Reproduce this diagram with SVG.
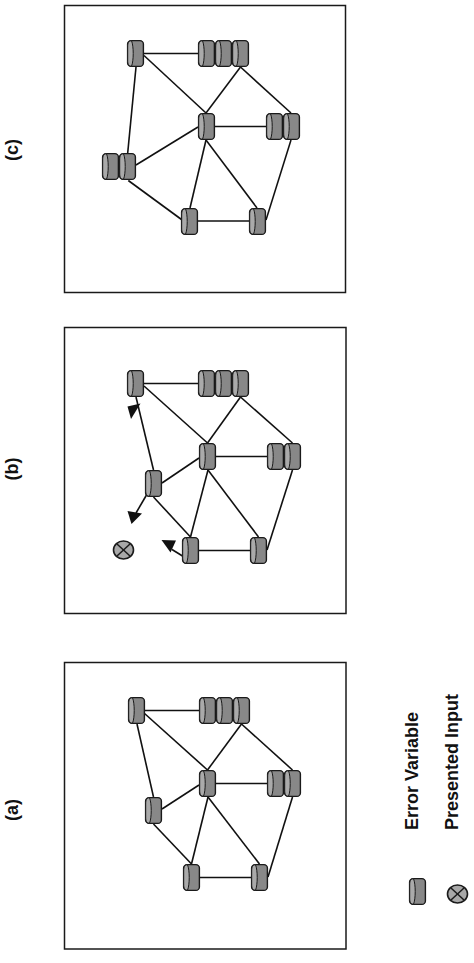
<svg xmlns="http://www.w3.org/2000/svg" xmlns:xlink="http://www.w3.org/1999/xlink" width="474" height="963" viewBox="0 0 474 963">
<style>
.frame{fill:#fff;stroke:#1a1a1a;stroke-width:1.5}
.edge{stroke:#111;stroke-width:1.6;fill:none}
.head{fill:#111;stroke:none}
.lbl{font-family:"Liberation Sans",Arial,sans-serif;font-weight:bold;font-size:18px;fill:#111}
.body{fill:#888;stroke:#1a1a1a;stroke-width:1.4}
.cap{fill:#aaa;stroke:#1a1a1a;stroke-width:1}
.inp{fill:#a8a8a8;stroke:#1a1a1a;stroke-width:1.6}
.x{stroke:#1a1a1a;stroke-width:1.5}
</style>
<defs>
<g id="cyl">
<rect class="body" x="0.6" y="0.6" width="15.8" height="25.8" rx="3.5"/>
<path class="cap" d="M4.5,0.8 C6.8,6 6.8,21 4.5,26.2 C1.6,26.2 0.7,24 0.7,20 V7 C0.7,3 1.6,0.8 4.5,0.8 Z"/>
</g>
<g id="inp">
<ellipse class="inp" cx="0" cy="0" rx="10" ry="9"/>
<line class="x" x1="-6.5" y1="-6" x2="6.5" y2="6"/>
<line class="x" x1="-6.5" y1="6" x2="6.5" y2="-6"/>
</g>
</defs>
<rect width="474" height="963" fill="#fff"/>

<g id="frames">
<rect id="frame-c" class="frame" x="64.5" y="5.5" width="281" height="287"/>
<rect id="frame-b" class="frame" x="64.5" y="327.5" width="281.5" height="286"/>
<rect id="frame-a" class="frame" x="64.5" y="662.5" width="281.5" height="286.5"/>
</g>

<g id="panel-labels">
<text id="label-c" class="lbl" transform="translate(18,150) rotate(-90)" text-anchor="middle">(c)</text>
<text id="label-b" class="lbl" transform="translate(18,469) rotate(-90)" text-anchor="middle">(b)</text>
<text id="label-a" class="lbl" transform="translate(18,810) rotate(-90)" text-anchor="middle">(a)</text>
</g>

<g id="connectors">
<!-- panel a -->
<line class="edge" x1="145" y1="710.5" x2="199" y2="710.5"/>
<line class="edge" x1="144" y1="713" x2="207.5" y2="770"/>
<line class="edge" x1="137" y1="724" x2="153.5" y2="797"/>
<line class="edge" x1="241.5" y1="724" x2="207.5" y2="770"/>
<line class="edge" x1="241.5" y1="724" x2="292.5" y2="770"/>
<line class="edge" x1="216" y1="783.5" x2="267" y2="783.5"/>
<line class="edge" x1="162" y1="809" x2="199" y2="785"/>
<line class="edge" x1="153.5" y1="824" x2="191.5" y2="864"/>
<line class="edge" x1="208" y1="797" x2="191.5" y2="864"/>
<line class="edge" x1="208" y1="797" x2="259.5" y2="864"/>
<line class="edge" x1="292.5" y1="797" x2="268" y2="877"/>
<line class="edge" x1="200" y1="877.5" x2="251" y2="877.5"/>
<!-- panel b -->
<line class="edge" x1="144" y1="383.5" x2="198" y2="383.5"/>
<line class="edge" x1="144" y1="386" x2="207.5" y2="443"/>
<line class="edge" x1="136" y1="397" x2="153.5" y2="470"/>
<line class="edge" x1="240.5" y1="397" x2="207.5" y2="443"/>
<line class="edge" x1="240.5" y1="397" x2="292.5" y2="443"/>
<line class="edge" x1="216" y1="456.5" x2="267" y2="456.5"/>
<line class="edge" x1="162" y1="483" x2="199" y2="458"/>
<line class="edge" x1="153.5" y1="497" x2="190.5" y2="537"/>
<line class="edge" x1="208" y1="470" x2="190.5" y2="537"/>
<line class="edge" x1="208" y1="470" x2="258.5" y2="537"/>
<line class="edge" x1="292.5" y1="470" x2="267" y2="550"/>
<line class="edge" x1="199" y1="550.5" x2="250" y2="550.5"/>
<line class="edge" x1="146.5" y1="495" x2="136" y2="513"/>
<line class="edge" x1="182.5" y1="556" x2="172" y2="549.5"/>
<polygon class="head" points="127.5,406.5 140.5,403.5 131,419"/>
<polygon class="head" points="127.5,511 142,513.5 131.5,524"/>
<polygon class="head" points="161.5,540 176,540.5 170.5,552.5"/>
<!-- panel c -->
<line class="edge" x1="144" y1="53.5" x2="198" y2="53.5"/>
<line class="edge" x1="144" y1="55.5" x2="206" y2="113"/>
<line class="edge" x1="136" y1="67" x2="127.7" y2="153"/>
<line class="edge" x1="240.5" y1="67" x2="206" y2="113"/>
<line class="edge" x1="240.5" y1="67" x2="291" y2="113"/>
<line class="edge" x1="215" y1="126.5" x2="266" y2="126.5"/>
<line class="edge" x1="136" y1="165" x2="198" y2="127"/>
<line class="edge" x1="128.3" y1="180.5" x2="181.5" y2="219.5"/>
<line class="edge" x1="206" y1="140" x2="190" y2="208"/>
<line class="edge" x1="206" y1="140" x2="257" y2="208"/>
<line class="edge" x1="291" y1="140" x2="266" y2="220"/>
<line class="edge" x1="198" y1="221" x2="249" y2="221"/>
</g>

<!-- panel c nodes -->
<g id="c-n1"><use xlink:href="#cyl" x="127" y="40"/></g>
<g id="c-triple"><use xlink:href="#cyl" x="198" y="40"/><use xlink:href="#cyl" x="215" y="40"/><use xlink:href="#cyl" x="232" y="40"/></g>
<g id="c-center"><use xlink:href="#cyl" x="198" y="113"/></g>
<g id="c-pair"><use xlink:href="#cyl" x="266" y="113"/><use xlink:href="#cyl" x="283" y="113"/></g>
<g id="c-left-pair"><use xlink:href="#cyl" x="102" y="153"/><use xlink:href="#cyl" x="119" y="153"/></g>
<g id="c-bl"><use xlink:href="#cyl" x="181" y="208"/></g>
<g id="c-br"><use xlink:href="#cyl" x="249" y="208"/></g>

<!-- panel b nodes -->
<g id="b-n1"><use xlink:href="#cyl" x="127" y="370"/></g>
<g id="b-triple"><use xlink:href="#cyl" x="198" y="370"/><use xlink:href="#cyl" x="215" y="370"/><use xlink:href="#cyl" x="232" y="370"/></g>
<g id="b-center"><use xlink:href="#cyl" x="199" y="443"/></g>
<g id="b-pair"><use xlink:href="#cyl" x="267" y="443"/><use xlink:href="#cyl" x="284" y="443"/></g>
<g id="b-left"><use xlink:href="#cyl" x="145" y="470"/></g>
<g id="b-bl"><use xlink:href="#cyl" x="182" y="537"/></g>
<g id="b-br"><use xlink:href="#cyl" x="250" y="537"/></g>
<g id="b-input"><use xlink:href="#inp" x="123.5" y="550"/></g>

<!-- panel a nodes -->
<g id="a-n1"><use xlink:href="#cyl" x="128" y="697"/></g>
<g id="a-triple"><use xlink:href="#cyl" x="199" y="697"/><use xlink:href="#cyl" x="216" y="697"/><use xlink:href="#cyl" x="233" y="697"/></g>
<g id="a-center"><use xlink:href="#cyl" x="199" y="770"/></g>
<g id="a-pair"><use xlink:href="#cyl" x="267" y="770"/><use xlink:href="#cyl" x="284" y="770"/></g>
<g id="a-left"><use xlink:href="#cyl" x="145" y="797"/></g>
<g id="a-bl"><use xlink:href="#cyl" x="183" y="864"/></g>
<g id="a-br"><use xlink:href="#cyl" x="251" y="864"/></g>

<g id="legend">
<g id="legend-error"><use xlink:href="#cyl" x="409" y="878"/>
<text class="lbl" transform="translate(418,830) rotate(-90)">Error Variable</text></g>
<g id="legend-input"><use xlink:href="#inp" x="457.5" y="894"/>
<text class="lbl" transform="translate(458,830) rotate(-90)">Presented Input</text></g>
</g>
</svg>
